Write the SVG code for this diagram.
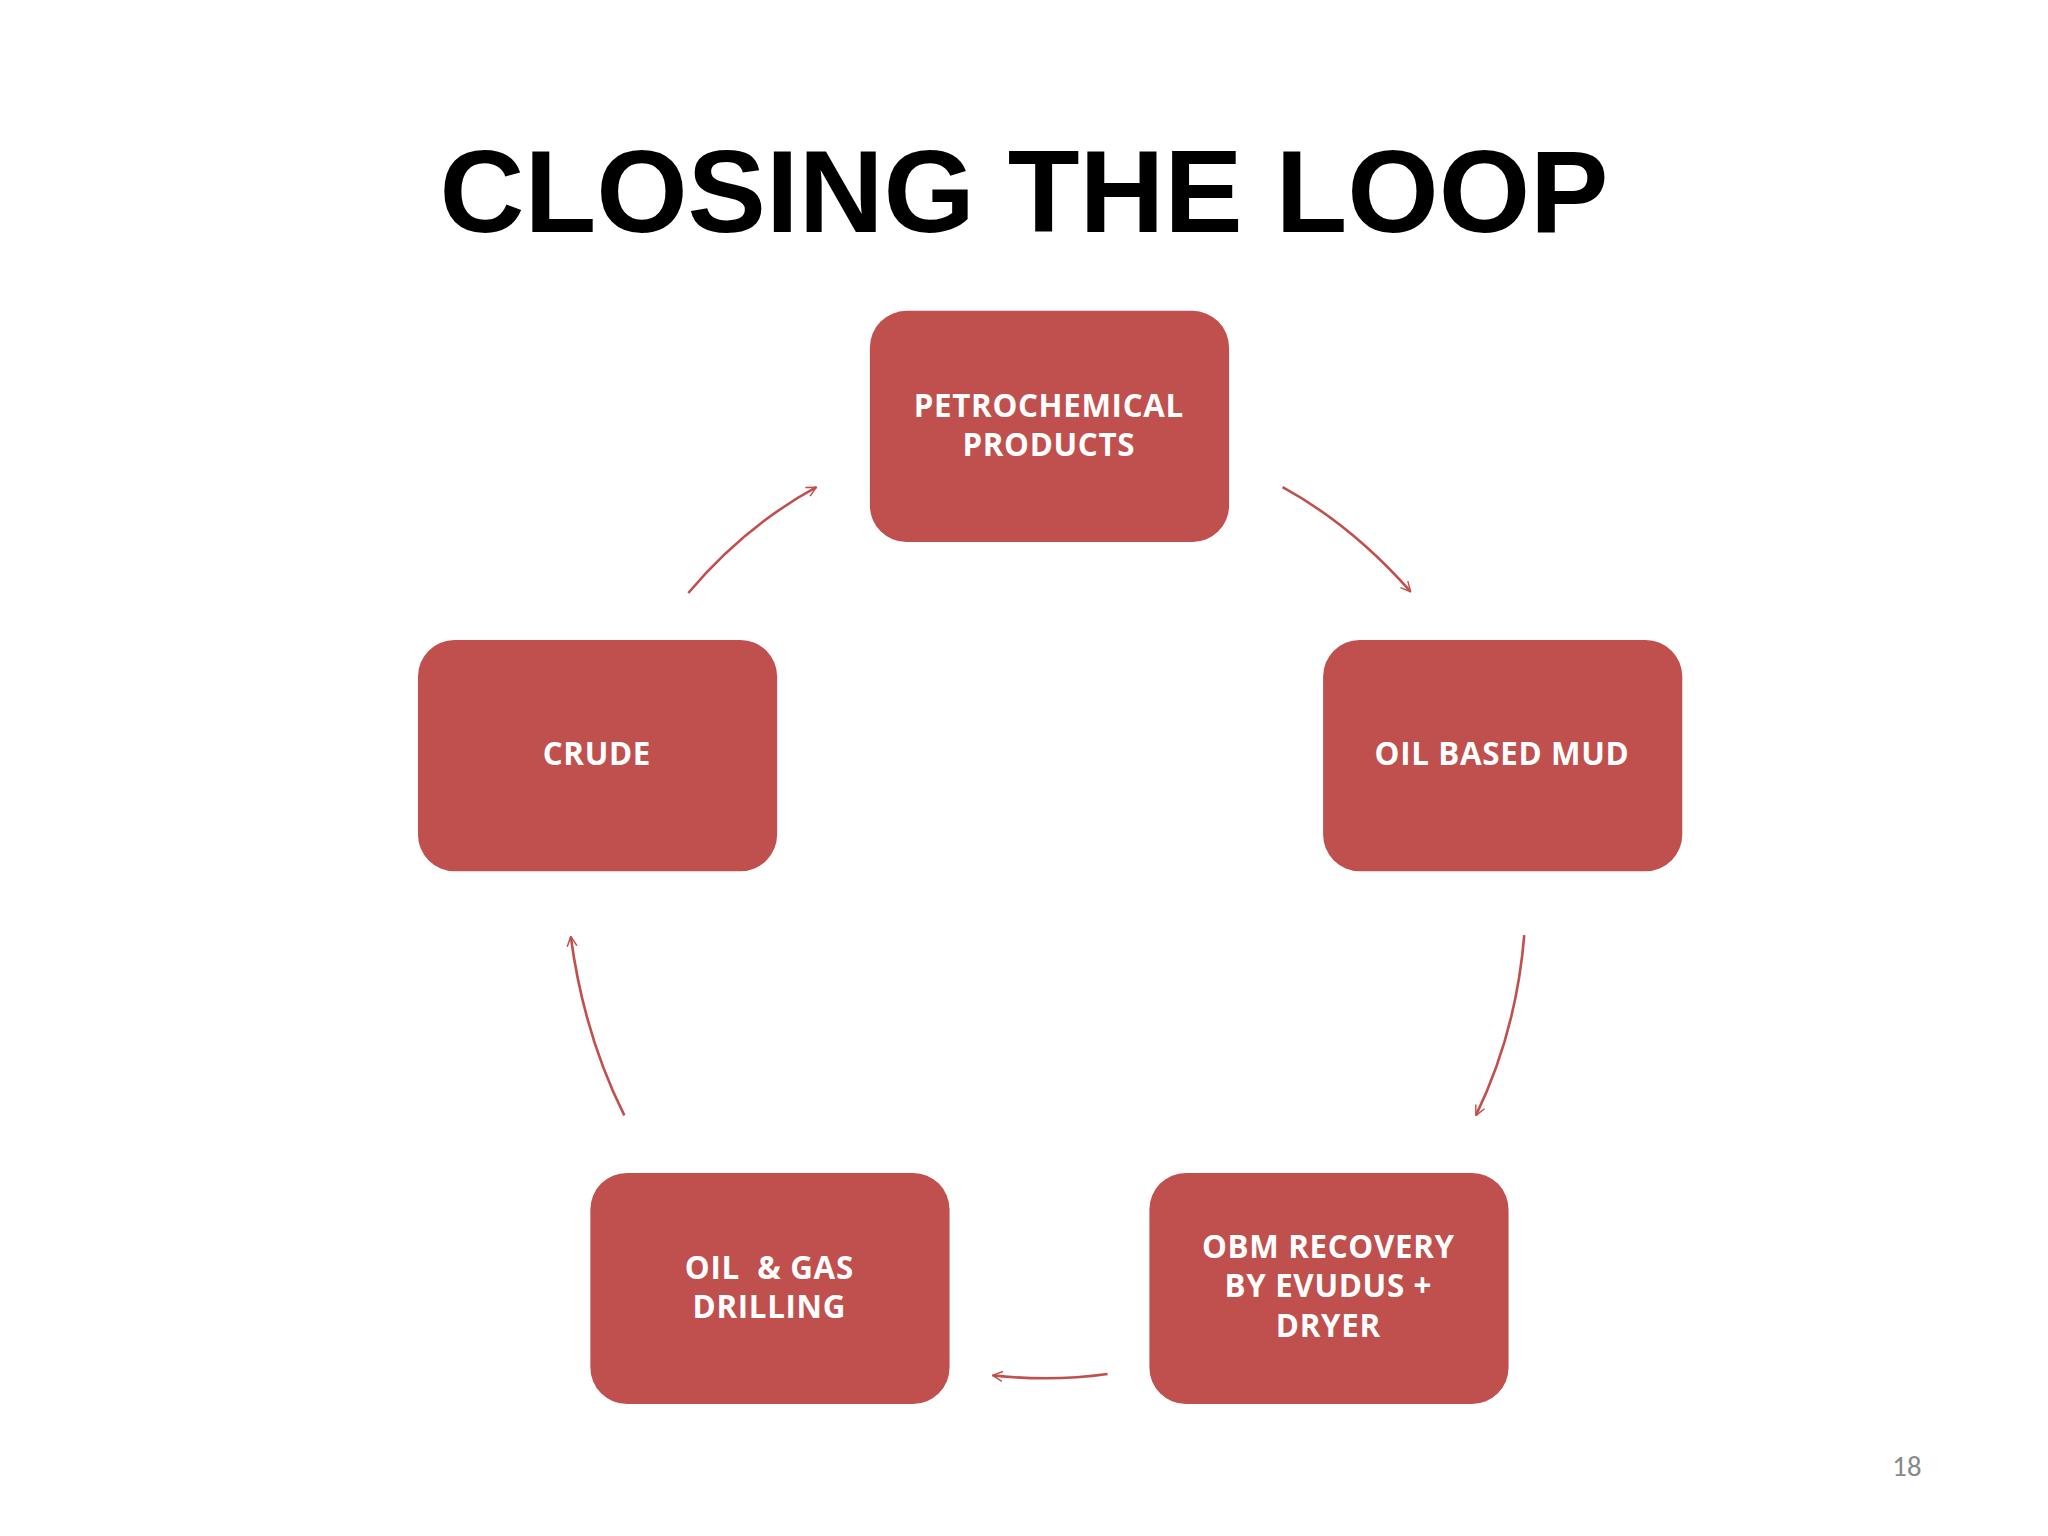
<svg xmlns="http://www.w3.org/2000/svg" width="2048" height="1536" viewBox="0 0 2048 1536">
<defs>
<style>
.box{fill:#C0504D}
.lbl{fill:#fff;font-family:"Open Sans","Liberation Sans",sans-serif;font-weight:bold;font-size:24px;text-anchor:middle;letter-spacing:0.5px}
.arr{fill:none;stroke:#C0504D;stroke-width:2;marker-end:url(#ah)}
</style>
<marker id="ah" viewBox="0 0 12 12" refX="11" refY="6" markerWidth="9" markerHeight="9" markerUnits="userSpaceOnUse" orient="auto"><path d="M1,1 L11,6 L1,11" fill="none" stroke="#C0504D" stroke-width="1.5"/></marker>
</defs>
<rect width="2048" height="1536" fill="#fff"/>
<g transform="scale(1.30612)">
<text x="784" y="178" font-family="Liberation Sans,Arial,sans-serif" font-weight="bold" font-size="90" text-anchor="middle">CLOSING THE LOOP</text>
<g id="petro"><rect class="box" x="666" y="238" width="275" height="177" rx="28"/><text class="lbl" x="803" y="319">PETROCHEMICAL</text><text class="lbl" x="803" y="349">PRODUCTS</text></g>
<g id="crude"><rect class="box" x="320" y="490" width="275" height="177" rx="28"/><text class="lbl" x="457" y="586">CRUDE</text></g>
<g id="obm"><rect class="box" x="1013" y="490" width="275" height="177" rx="28"/><text class="lbl" x="1150" y="586">OIL BASED MUD</text></g>
<g id="drilling"><rect class="box" x="452" y="898" width="275" height="177" rx="28"/><text class="lbl" x="589" y="979" xml:space="preserve">OIL  &amp; GAS</text><text class="lbl" x="589" y="1009">DRILLING</text></g>
<g id="recovery"><rect class="box" x="880" y="898" width="275" height="177" rx="28"/><text class="lbl" x="1017" y="963">OBM RECOVERY</text><text class="lbl" x="1017" y="993">BY EVUDUS +</text><text class="lbl" x="1017" y="1024">DRYER</text></g>
<g id="connectors">
<path class="arr" d="M527,454 Q570,403 625,373"/>
<path class="arr" d="M982,373 Q1035,402 1080,453"/>
<path class="arr" d="M1167,716 Q1161,790 1130,854"/>
<path class="arr" d="M848,1052 Q805,1058 760,1053"/>
<path class="arr" d="M478,854 Q447,792 437,717"/>
</g>
<text x="1460" y="1130" font-family="Calibri,Carlito,Liberation Sans,sans-serif" font-size="22" fill="#888" text-anchor="middle">18</text>
</g>
</svg>
